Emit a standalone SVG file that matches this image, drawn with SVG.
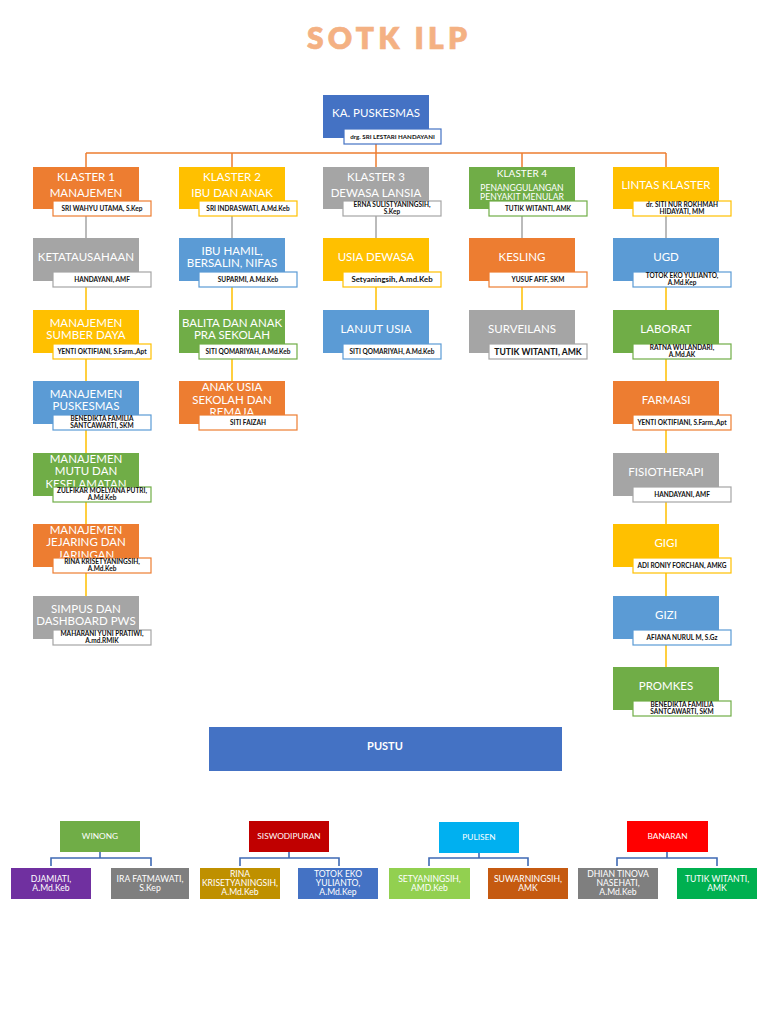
<svg xmlns="http://www.w3.org/2000/svg" width="768" height="1024" viewBox="0 0 768 1024">
<style>
text{font-family:Lato,"Open Sans","Liberation Sans",sans-serif;}
.t{fill:#fff;font-size:11.5px;text-anchor:middle;}
.ts{fill:#fff;font-size:8.6px;text-anchor:middle;}
.n{fill:#111;font-size:6.5px;font-weight:bold;text-anchor:middle;}
.nb{fill:#fff;stroke-width:1.2;}
.g{fill:#fff;font-size:8.3px;text-anchor:middle;}
.c{fill:#fff;font-size:8.6px;text-anchor:middle;}
.or{fill:#ED7D31}.go{fill:#FFC000}.gr{fill:#A5A5A5}.gn{fill:#70AD47}.bl{fill:#5B9BD5}
.sor{stroke:#ED7D31}.sgo{stroke:#FFC000}.sgr{stroke:#A5A5A5}.sgn{stroke:#70AD47}.sbl{stroke:#5B9BD5}.sdb{stroke:#4472C4}
</style>
<rect width="768" height="1024" fill="#fff"/>
<text x="387" y="49" font-family="'Open Sans',Lato,sans-serif" font-size="30" font-weight="800" fill="#F4B183" stroke="#F4B183" stroke-width="0.6" text-anchor="middle" textLength="160" lengthAdjust="spacing">SOTK ILP</text>

<g id="connectors" fill="none">
  <g stroke="#ED7D31" stroke-width="1.5">
    <path d="M376 144V153M86 153H666M86 153V167M232 153V167M376 153V167M522 153V167M666 153V167"/>
  </g>
  <g stroke="#A5A5A5" stroke-width="1.5">
    <path d="M86 216V238M232 216V238M376 216V238M522 216V238M666 216V238"/>
  </g>
  <g stroke="#FFC000" stroke-width="1.5">
    <path d="M86 287V310M86 359V381M86 430V453M86 502V524M86 573V596"/>
    <path d="M232 287V310M232 359V381"/>
    <path d="M376 287V310M522 287V310"/>
    <path d="M666 287V310M666 359V381M666 430V453M666 502V524M666 573V596M666 645V667"/>
  </g>
  <g stroke="#3F6AB4" stroke-width="1.6">
    <path d="M100 852V858M51 866V858H151V866"/>
    <path d="M289 852V858M240 866V858H339V866"/>
    <path d="M479 853V858M429 866V858H528V866"/>
    <path d="M667 852V858M617 866V858H717V866"/>
  </g>
</g>

<g id="ka-puskesmas">
  <rect x="323" y="95" width="106" height="43" fill="#4472C4"/>
  <text class="t" x="376" y="117">KA. PUSKESMAS</text>
  <rect class="nb" x="344" y="129" width="97" height="15" stroke="#4472C4"/>
  <text class="n" x="392.5" y="138.7" style="font-size:6.2px">drg. SRI LESTARI HANDAYANI</text>
</g>

<!-- Column 1 -->
<g id="klaster1">
  <rect class="or" x="33" y="167" width="106" height="42"/>
  <text class="t" x="86" y="181">KLASTER 1</text>
  <text class="t" x="86" y="197">MANAJEMEN</text>
  <rect class="nb sor" x="53" y="201" width="98" height="15"/>
  <text class="n" x="102" y="210.7">SRI WAHYU UTAMA, S.Kep</text>
</g>
<g id="ketatausahaan">
  <rect class="gr" x="33" y="238" width="106" height="43"/>
  <text class="t" x="86" y="261">KETATAUSAHAAN</text>
  <rect class="nb sgr" x="53" y="272" width="98" height="15"/>
  <text class="n" x="102" y="281.7">HANDAYANI, AMF</text>
</g>
<g id="manajemen-sdm">
  <rect class="go" x="33" y="310" width="106" height="43"/>
  <text class="t" x="86" y="326.5">MANAJEMEN</text>
  <text class="t" x="86" y="339">SUMBER DAYA</text>
  <rect class="nb sgo" x="53" y="344" width="98" height="15"/>
  <text class="n" x="102" y="353.7">YENTI OKTIFIANI, S.Farm.,Apt</text>
</g>
<g id="manajemen-puskesmas">
  <rect class="bl" x="33" y="381" width="106" height="43"/>
  <text class="t" x="86" y="397.5">MANAJEMEN</text>
  <text class="t" x="86" y="410">PUSKESMAS</text>
  <rect class="nb sbl" x="53" y="415" width="98" height="15"/>
  <text class="n" x="102" y="420.8">BENEDIKTA FAMILIA</text>
  <text class="n" x="102" y="427.5">SANTCAWARTI, SKM</text>
</g>
<g id="manajemen-mutu">
  <rect class="gn" x="33" y="453" width="106" height="43"/>
  <text class="t" x="86" y="462.5">MANAJEMEN</text>
  <text class="t" x="86" y="475">MUTU DAN</text>
  <text class="t" x="86" y="487.5">KESELAMATAN</text>
  <rect class="nb sgn" x="53" y="487" width="98" height="15"/>
  <text class="n" x="102" y="492.8">ZULFIKAR MOELYANA PUTRI,</text>
  <text class="n" x="102" y="499.5">A.Md.Keb</text>
</g>
<g id="manajemen-jejaring">
  <rect class="or" x="33" y="524" width="106" height="43"/>
  <text class="t" x="86" y="533.5">MANAJEMEN</text>
  <text class="t" x="86" y="546">JEJARING DAN</text>
  <text class="t" x="86" y="558.5">JARINGAN</text>
  <rect class="nb sor" x="53" y="558" width="98" height="15"/>
  <text class="n" x="102" y="563.8">RINA KRISETYANINGSIH,</text>
  <text class="n" x="102" y="570.5">A.Md.Keb</text>
</g>
<g id="simpus">
  <rect class="gr" x="33" y="596" width="106" height="43"/>
  <text class="t" x="86" y="612.5">SIMPUS DAN</text>
  <text class="t" x="86" y="625">DASHBOARD PWS</text>
  <rect class="nb sgr" x="53" y="630" width="98" height="15"/>
  <text class="n" x="102" y="635.8">MAHARANI YUNI PRATIWI,</text>
  <text class="n" x="102" y="642.5">A.md.RMIK</text>
</g>

<!-- Column 2 -->
<g id="klaster2">
  <rect class="go" x="179" y="167" width="106" height="42"/>
  <text class="t" x="232" y="181">KLASTER 2</text>
  <text class="t" x="232" y="197">IBU DAN ANAK</text>
  <rect class="nb sgo" x="199" y="201" width="98" height="15"/>
  <text class="n" x="248" y="210.7">SRI INDRASWATI, A.Md.Keb</text>
</g>
<g id="ibu-hamil">
  <rect class="bl" x="179" y="238" width="106" height="43"/>
  <text class="t" x="232" y="254.5">IBU HAMIL,</text>
  <text class="t" x="232" y="267">BERSALIN, NIFAS</text>
  <rect class="nb sbl" x="199" y="272" width="98" height="15"/>
  <text class="n" x="248" y="281.7">SUPARMI, A.Md.Keb</text>
</g>
<g id="balita">
  <rect class="gn" x="179" y="310" width="106" height="43"/>
  <text class="t" x="232" y="326.5">BALITA DAN ANAK</text>
  <text class="t" x="232" y="339">PRA SEKOLAH</text>
  <rect class="nb sgn" x="199" y="344" width="98" height="15"/>
  <text class="n" x="248" y="353.7">SITI QOMARIYAH, A.Md.Keb</text>
</g>
<g id="anak-usia-sekolah">
  <rect class="or" x="179" y="381" width="106" height="43"/>
  <text class="t" x="232" y="391">ANAK USIA</text>
  <text class="t" x="232" y="403.5">SEKOLAH DAN</text>
  <text class="t" x="232" y="416">REMAJA</text>
  <rect class="nb sor" x="199" y="415" width="98" height="15"/>
  <text class="n" x="248" y="424.7">SITI FAIZAH</text>
</g>

<!-- Column 3 -->
<g id="klaster3">
  <rect class="gr" x="323" y="167" width="106" height="42"/>
  <text class="t" x="376" y="181">KLASTER 3</text>
  <text class="t" x="376" y="197">DEWASA LANSIA</text>
  <rect class="nb sgr" x="343" y="201" width="98" height="15"/>
  <text class="n" x="392" y="206.8">ERNA SULISTYANINGSIH,</text>
  <text class="n" x="392" y="213.5">S.Kep</text>
</g>
<g id="usia-dewasa">
  <rect class="go" x="323" y="238" width="106" height="43"/>
  <text class="t" x="376" y="261">USIA DEWASA</text>
  <rect class="nb sgo" x="343" y="272" width="98" height="15"/>
  <text class="n" x="392" y="282.3" style="font-size:7.8px">Setyaningsih, A.md.Keb</text>
</g>
<g id="lanjut-usia">
  <rect class="bl" x="323" y="310" width="106" height="43"/>
  <text class="t" x="376" y="333">LANJUT USIA</text>
  <rect class="nb sbl" x="343" y="344" width="98" height="15"/>
  <text class="n" x="392" y="353.7">SITI QOMARIYAH, A.Md.Keb</text>
</g>

<!-- Column 4 -->
<g id="klaster4">
  <rect class="gn" x="469" y="167" width="106" height="42"/>
  <text class="t" x="522" y="177" style="font-size:10px">KLASTER 4</text>
  <text class="ts" x="522" y="190.5">PENANGGULANGAN</text>
  <text class="ts" x="522" y="199.5">PENYAKIT MENULAR</text>
  <rect class="nb sgn" x="489" y="201" width="98" height="15"/>
  <text class="n" x="538" y="210.7">TUTIK WITANTI, AMK</text>
</g>
<g id="kesling">
  <rect class="or" x="469" y="238" width="106" height="43"/>
  <text class="t" x="522" y="261">KESLING</text>
  <rect class="nb sor" x="489" y="272" width="98" height="15"/>
  <text class="n" x="538" y="281.7">YUSUF AFIF, SKM</text>
</g>
<g id="surveilans">
  <rect class="gr" x="469" y="310" width="106" height="43"/>
  <text class="t" x="522" y="333">SURVEILANS</text>
  <rect class="nb sgr" x="489" y="344" width="98" height="15"/>
  <text class="n" x="538" y="354.8" style="font-size:8.6px">TUTIK WITANTI, AMK</text>
</g>

<!-- Column 5 -->
<g id="lintas-klaster">
  <rect class="go" x="613" y="167" width="106" height="42"/>
  <text class="t" x="666" y="189">LINTAS KLASTER</text>
  <rect class="nb sgo" x="633" y="201" width="98" height="15"/>
  <text class="n" x="682" y="206.8">dr. SITI NUR ROKHMAH</text>
  <text class="n" x="682" y="213.5">HIDAYATI, MM</text>
</g>
<g id="ugd">
  <rect class="bl" x="613" y="238" width="106" height="43"/>
  <text class="t" x="666" y="261">UGD</text>
  <rect class="nb sbl" x="633" y="272" width="98" height="15"/>
  <text class="n" x="682" y="277.8">TOTOK EKO YULIANTO,</text>
  <text class="n" x="682" y="284.5">A.Md.Kep</text>
</g>
<g id="laborat">
  <rect class="gn" x="613" y="310" width="106" height="43"/>
  <text class="t" x="666" y="333">LABORAT</text>
  <rect class="nb sgn" x="633" y="344" width="98" height="15"/>
  <text class="n" x="682" y="349.8">RATNA WULANDARI,</text>
  <text class="n" x="682" y="356.5">A.Md.AK</text>
</g>
<g id="farmasi">
  <rect class="or" x="613" y="381" width="106" height="43"/>
  <text class="t" x="666" y="404">FARMASI</text>
  <rect class="nb sor" x="633" y="415" width="98" height="15"/>
  <text class="n" x="682" y="424.7">YENTI OKTIFIANI, S.Farm.,Apt</text>
</g>
<g id="fisiotherapi">
  <rect class="gr" x="613" y="453" width="106" height="43"/>
  <text class="t" x="666" y="476">FISIOTHERAPI</text>
  <rect class="nb sgr" x="633" y="487" width="98" height="15"/>
  <text class="n" x="682" y="496.7">HANDAYANI, AMF</text>
</g>
<g id="gigi">
  <rect class="go" x="613" y="524" width="106" height="43"/>
  <text class="t" x="666" y="547">GIGI</text>
  <rect class="nb sgo" x="633" y="558" width="98" height="15"/>
  <text class="n" x="682" y="567.7">ADI RONIY FORCHAN, AMKG</text>
</g>
<g id="gizi">
  <rect class="bl" x="613" y="596" width="106" height="43"/>
  <text class="t" x="666" y="619">GIZI</text>
  <rect class="nb sbl" x="633" y="630" width="98" height="15"/>
  <text class="n" x="682" y="639.7">AFIANA NURUL M, S.Gz</text>
</g>
<g id="promkes">
  <rect class="gn" x="613" y="667" width="106" height="43"/>
  <text class="t" x="666" y="690">PROMKES</text>
  <rect class="nb sgn" x="633" y="701" width="98" height="15"/>
  <text class="n" x="682" y="706.8">BENEDIKTA FAMILIA</text>
  <text class="n" x="682" y="713.5">SANTCAWARTI, SKM</text>
</g>

<g id="pustu">
  <rect x="209" y="727" width="353" height="44" fill="#4472C4"/>
  <text x="385" y="750" fill="#fff" font-size="11" font-weight="bold" text-anchor="middle">PUSTU</text>
</g>

<!-- Pustu groups -->
<g id="winong">
  <rect x="60" y="821" width="80" height="31" fill="#70AD47"/>
  <text class="g" x="100" y="839">WINONG</text>
</g>
<g id="djamiati">
  <rect x="11" y="868" width="80" height="31" fill="#7030A0"/>
  <text class="c" x="51" y="882">DJAMIATI,</text>
  <text class="c" x="51" y="891">A.Md.Keb</text>
</g>
<g id="ira">
  <rect x="111" y="868" width="78" height="31" fill="#7F7F7F"/>
  <text class="c" x="150" y="882">IRA FATMAWATI,</text>
  <text class="c" x="150" y="891">S.Kep</text>
</g>

<g id="siswodipuran">
  <rect x="249" y="821" width="80" height="31" fill="#C00000"/>
  <text class="g" x="289" y="839">SISWODIPURAN</text>
</g>
<g id="rina">
  <rect x="200" y="868" width="80" height="31" fill="#BF9000"/>
  <text class="c" x="240" y="877">RINA</text>
  <text class="c" x="240" y="886">KRISETYANINGSIH,</text>
  <text class="c" x="240" y="895">A.Md.Keb</text>
</g>
<g id="totok">
  <rect x="298" y="868" width="80" height="31" fill="#4472C4"/>
  <text class="c" x="338" y="877">TOTOK EKO</text>
  <text class="c" x="338" y="886">YULIANTO,</text>
  <text class="c" x="338" y="895">A.Md.Kep</text>
</g>

<g id="pulisen">
  <rect x="439" y="822" width="80" height="31" fill="#00B0F0"/>
  <text class="g" x="479" y="840">PULISEN</text>
</g>
<g id="setyaningsih">
  <rect x="389" y="868" width="81" height="31" fill="#92D050"/>
  <text class="c" x="429.5" y="882">SETYANINGSIH,</text>
  <text class="c" x="429.5" y="891">AMD.Keb</text>
</g>
<g id="suwarningsih">
  <rect x="488" y="868" width="80" height="31" fill="#C55A11"/>
  <text class="c" x="528" y="882">SUWARNINGSIH,</text>
  <text class="c" x="528" y="891">AMK</text>
</g>

<g id="banaran">
  <rect x="627" y="821" width="81" height="31" fill="#FF0000"/>
  <text class="g" x="667.5" y="839">BANARAN</text>
</g>
<g id="dhian">
  <rect x="578" y="868" width="80" height="31" fill="#7F7F7F"/>
  <text class="c" x="618" y="877">DHIAN TINOVA</text>
  <text class="c" x="618" y="886">NASEHATI,</text>
  <text class="c" x="618" y="895">A.Md.Keb</text>
</g>
<g id="tutik">
  <rect x="677" y="868" width="80" height="31" fill="#00B050"/>
  <text class="c" x="717" y="882">TUTIK WITANTI,</text>
  <text class="c" x="717" y="891">AMK</text>
</g>
</svg>
